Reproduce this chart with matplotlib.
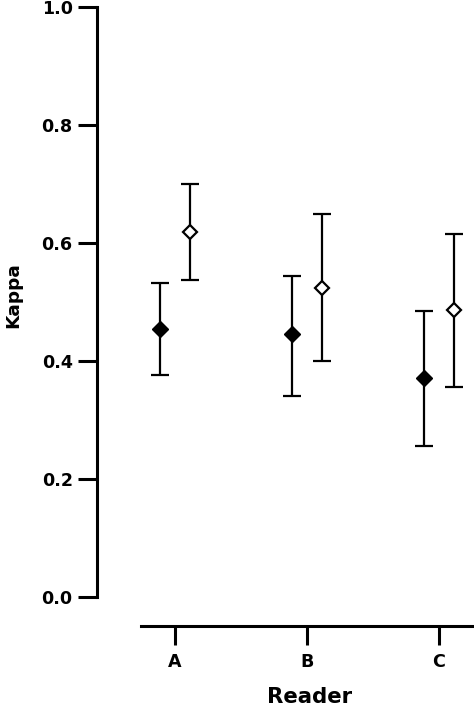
import matplotlib
matplotlib.use('Agg')
import matplotlib.pyplot as plt
import numpy as np

plt.rcParams['font.family'] = ['DejaVu Sans']

# kappa per reader: filled = first series, open = second series
readers = ['A', 'B', 'C']
kappa_filled = [0.454, 0.445, 0.372]
lo_filled = [0.376, 0.341, 0.256]
hi_filled = [0.532, 0.544, 0.485]
kappa_open = [0.618, 0.524, 0.486]
lo_open = [0.538, 0.400, 0.356]
hi_open = [0.700, 0.649, 0.616]

W, H = 474, 707
fig = plt.figure(figsize=(W / 100, H / 100), dpi=100)
ax = fig.add_axes([97 / W, 1 - 626 / H, (W - 97) / W, (626 - 7) / H])

x = np.arange(1, len(readers) + 1)
off = 0.11

kf = np.array(kappa_filled); ko = np.array(kappa_open)
err_f = [kf - np.array(lo_filled), np.array(hi_filled) - kf]
err_o = [ko - np.array(lo_open), np.array(hi_open) - ko]

ax.errorbar(x - off, kf, yerr=err_f, fmt='D', color='black', ms=8.5,
            mfc='black', mec='black', ecolor='black', elinewidth=1.6,
            capsize=6.5, capthick=1.6, zorder=3)
ax.errorbar(x + off, ko, yerr=err_o, fmt='D', color='black', ms=7.5,
            mfc='white', mec='black', mew=1.6, ecolor='black', elinewidth=1.6,
            capsize=6.5, capthick=1.6, zorder=3)

ax.set_xlim(0.409, 3.265)
ax.set_ylim(-0.049, 1.0)
ax.spines['top'].set_visible(False)
ax.spines['right'].set_visible(False)
ax.spines['left'].set_bounds(0, 1)
ax.spines['bottom'].set_bounds(0.74, 3.265)
for s in ('left', 'bottom'):
    ax.spines[s].set_linewidth(2.2)

ax.set_yticks([0.0, 0.2, 0.4, 0.6, 0.8, 1.0])
ax.set_yticklabels(['0.0', '0.2', '0.4', '0.6', '0.8', '1.0'])
ax.set_xticks(x)
ax.set_xticklabels(readers)
ax.tick_params(axis='both', length=13.5, width=2.2, labelsize=12.6)
ax.tick_params(axis='y', pad=4)
ax.tick_params(axis='x', pad=6)
for lab in ax.get_xticklabels() + ax.get_yticklabels():
    lab.set_fontweight('bold')

ax.set_ylabel('Kappa', fontsize=13.3, fontweight='bold')
ax.yaxis.set_label_coords(-0.199, 0.535)
ax.set_xlabel('Reader', fontsize=15.3, fontweight='bold')
ax.xaxis.set_label_coords(0.564, -0.098)
ax.patch.set_alpha(0)

fig.savefig('out.png', dpi=100, facecolor='white')
